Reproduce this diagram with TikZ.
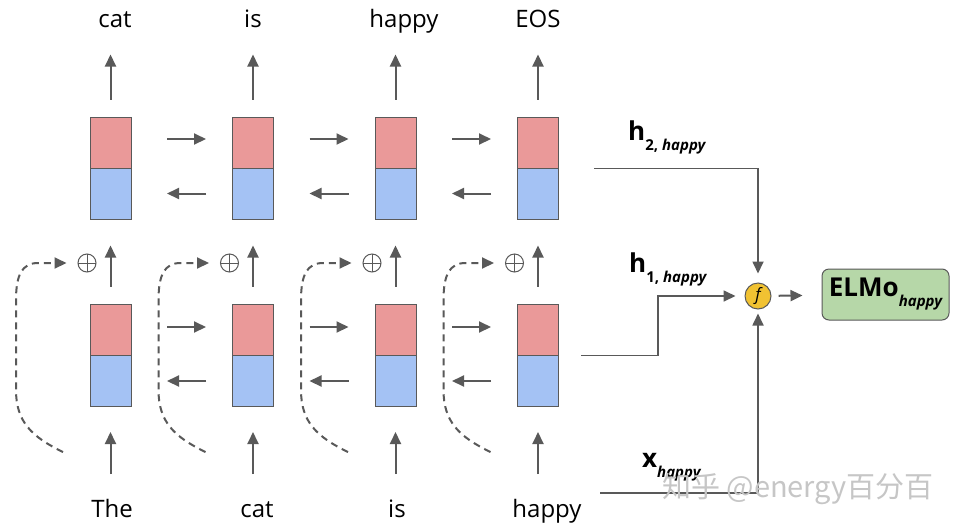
\documentclass[tikz,border=0pt]{standalone}
\usepackage{fontspec}
\setmainfont{Open Sans}
\newfontfamily\cjkfont{Noto Sans CJK SC}
\usetikzlibrary{arrows.meta,calc}
\definecolor{redc}{HTML}{EA9999}
\definecolor{bluec}{HTML}{A4C2F4}
\definecolor{edgec}{HTML}{595959}
\definecolor{greenc}{HTML}{B6D7A8}
\definecolor{yellowc}{HTML}{F1C232}
\newcommand\labsub[2]{{\fontsize{26}{30}\selectfont\bfseries #1}\raisebox{-10pt}{\fontsize{15}{18}\selectfont\bfseries #2}}
\tikzset{
  cellr/.style={draw=edgec, fill=redc, line width=1pt, minimum width=41pt, minimum height=51pt, inner sep=0pt},
  cellb/.style={draw=edgec, fill=bluec, line width=1pt, minimum width=41pt, minimum height=51pt, inner sep=0pt},
  arr/.style={draw=edgec, line width=2pt, -{Triangle[length=12pt,width=11pt]}},
  thinarr/.style={draw=edgec, line width=1.7pt, -{Triangle[length=12pt,width=11pt]}},
  dasharr/.style={draw=edgec, line width=2pt, dash pattern=on 7pt off 5pt, -{Triangle[length=12pt,width=11pt]}},
  word/.style={font=\fontsize{24}{28}\selectfont, text=black, inner sep=0pt, anchor=base},
  lab/.style={inner sep=0pt, anchor=base west, text=black},
  oplus/.style={circle, draw=edgec, line width=1pt, minimum size=18pt, inner sep=0pt,
    path picture={\draw[edgec, line width=0.8pt] (path picture bounding box.north) -- (path picture bounding box.south) (path picture bounding box.west) -- (path picture bounding box.east);}},
  fnode/.style={circle, draw=edgec, fill=yellowc, line width=1pt, minimum size=26pt, inner sep=0pt, font=\fontsize{17}{20}\selectfont\itshape},
  elmobox/.style={draw=edgec, fill=greenc, line width=1pt, rounded corners=7pt, minimum width=127pt, minimum height=51pt, inner sep=0pt}
}
\begin{document}
\begin{tikzpicture}[x=1pt,y=-1pt]
\useasboundingbox (0,0) rectangle (960,528);
\fill[white] (0,0) rectangle (960,528);

\foreach \i/\c in {1/110.5,2/253,3/395.5,4/538}{
  \node[cellr] (tr\i) at (\c,142.5) {};
  \node[cellb] (tb\i) at (\c,193.5) {};
  \node[cellr] (br\i) at (\c,329.5) {};
  \node[cellb] (bb\i) at (\c,381) {};
  \node[oplus] (op\i) at (\c-23.5,263) {};
  \coordinate (ds\i) at (\c-47.5,452);
  \draw[arr] ([yshift=17pt]tr\i.north) -- ([yshift=62pt]tr\i.north);
  \draw[arr] ([yshift=17pt]br\i.north) -- ([yshift=-26pt]tb\i.south);
  \draw[arr] ([yshift=-67pt]bb\i.south) -- ([yshift=-25pt]bb\i.south);
  \draw[dasharr] (ds\i) .. controls (\c-78.5,437) and (\c-94.5,422) .. (\c-94.5,390)
     -- (\c-94.5,300) .. controls (\c-94.5,275) and (\c-88.5,263) .. (\c-72.5,263)
     -- ([xshift=-11pt]op\i.west);
}
\foreach \i/\j in {1/2,2/3,3/4}{
  \draw[arr] ([xshift=35.5pt,yshift=3.5pt]tr\i.east) -- ([xshift=-26pt,yshift=3.5pt]tr\j.west);
  \draw[arr] ([xshift=-26pt]tb\j.west) -- ([xshift=35.5pt]tb\i.east);
  \draw[arr] ([xshift=35.5pt,yshift=2.5pt]br\i.east) -- ([xshift=-26pt,yshift=2.5pt]br\j.west);
  \draw[arr] ([xshift=-26pt]bb\j.west) -- ([xshift=35.5pt]bb\i.east);
}

% output words
\node[word] (o1) at (115,27) {cat};
\node[word] (o2) at (253,27) {is};
\node[word] (o3) at (404,27) {happy};
\node[word] (o4) at (538,27) {EOS};
% input words
\node[word] (w1) at (112,517) {The};
\node[word] (w2) at (257,517) {cat};
\node[word] (w3) at (397,517) {is};
\node[word] (w4) at (547,517) {happy};

% combination
\node[fnode] (f) at (758,296) {f};
\node[elmobox] (elmo) at (885.5,294.5) {\labsub{ELMo}{\itshape happy}};
\draw[arr, shorten <=7pt, shorten >=19pt] (f) -- (elmo);
\draw[thinarr, shorten >=9pt] ([xshift=35pt]tr4.south east) -| (f.north);
\draw[thinarr, shorten >=9pt] ([xshift=22pt]br4.south east) -- ++(77,0) |- (f.west);
\coordinate (xs) at (600,493);
\draw[thinarr, shorten >=4pt] (xs) -| (f.south);

\node[lab] (h2l) at (628,140) {\labsub{h}{2, \itshape happy}};
\node[lab] (h1l) at (629,272) {\labsub{h}{1, \itshape happy}};
\node[lab] (xl) at (642,467) {\labsub{x}{\itshape happy}};

\node[lab, text=gray!45] (wm) at (662,497) {\cjkfont\fontsize{29}{32}\selectfont 知乎 @energy百分百};
\end{tikzpicture}
\end{document}
